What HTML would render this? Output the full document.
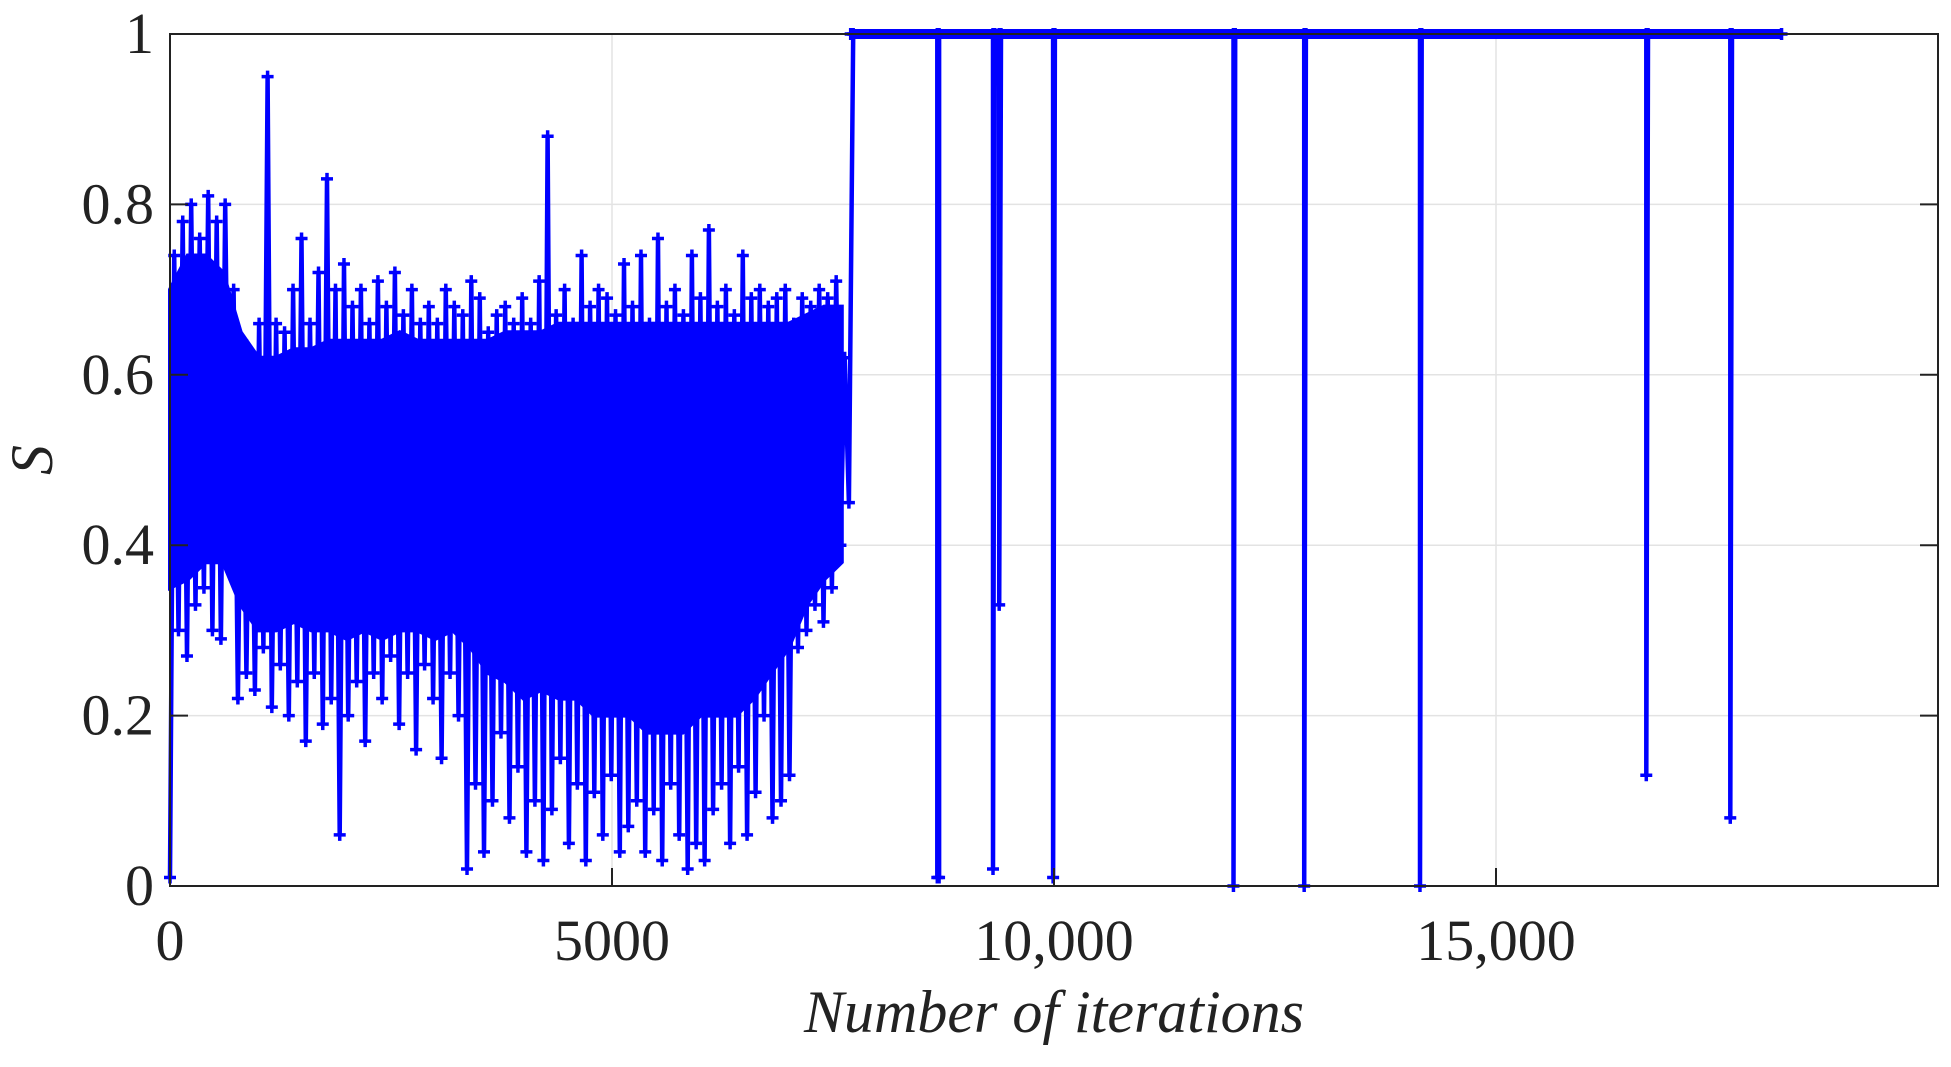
<!DOCTYPE html>
<html><head><meta charset="utf-8"><style>
body{margin:0;background:#fff;width:1951px;height:1062px;overflow:hidden}
svg text{font-family:"Liberation Serif",serif;fill:#222}
</style></head><body>
<svg id="chart" width="1951" height="1062" xmlns="http://www.w3.org/2000/svg">
<g id="grid"></g>
<g id="series"></g>
<rect x="170" y="34" width="1768" height="852" fill="none" stroke="#222" stroke-width="2"/>
<g id="ticks"></g>
<text x="1054" y="1032" font-size="60" font-style="italic" text-anchor="middle">Number of iterations</text>
<text x="52" y="460" font-size="60" font-style="italic" text-anchor="middle" transform="rotate(-90 52 460)">S</text>
</svg>
<script>
const xTicks=[0,5000,10000,15000];
const xTickLabels=["0","5000","10,000","15,000"];
const yTicks=[0,0.2,0.4,0.6,0.8,1];
const yTickLabels=["0","0.2","0.4","0.6","0.8","1"];
const noisyStep=48;
const noisyValues=[0.01,0.74,0.3,0.78,0.27,0.8,0.33,0.76,0.35,0.81,0.3,0.78,0.29,0.8,0.4,0.7,0.22,0.64,0.25,0.62,0.23,0.66,0.28,0.95,0.21,0.66,0.26,0.65,0.2,0.7,0.24,0.76,0.17,0.66,0.25,0.72,0.19,0.83,0.22,0.7,0.06,0.73,0.2,0.68,0.24,0.7,0.17,0.66,0.25,0.71,0.22,0.68,0.27,0.72,0.19,0.67,0.25,0.7,0.16,0.66,0.26,0.68,0.22,0.66,0.15,0.7,0.25,0.68,0.2,0.67,0.02,0.71,0.12,0.69,0.04,0.65,0.1,0.67,0.18,0.68,0.08,0.66,0.14,0.69,0.04,0.66,0.1,0.71,0.03,0.88,0.09,0.67,0.15,0.7,0.05,0.66,0.12,0.74,0.03,0.68,0.11,0.7,0.06,0.69,0.13,0.67,0.04,0.73,0.07,0.68,0.1,0.74,0.04,0.66,0.09,0.76,0.03,0.68,0.12,0.7,0.06,0.67,0.02,0.74,0.05,0.69,0.03,0.77,0.09,0.68,0.12,0.7,0.05,0.67,0.14,0.74,0.06,0.69,0.11,0.7,0.2,0.68,0.08,0.69,0.1,0.7,0.13,0.66,0.28,0.69,0.3,0.68,0.33,0.7,0.31,0.69,0.35,0.71,0.4,0.62,0.45,1];
const binStep=200;
const binLow=[0.35,0.36,0.38,0.38,0.33,0.3,0.3,0.31,0.3,0.3,0.29,0.3,0.29,0.3,0.3,0.29,0.3,0.28,0.25,0.24,0.22,0.23,0.22,0.22,0.2,0.2,0.2,0.18,0.18,0.18,0.2,0.2,0.2,0.22,0.25,0.28,0.33,0.36,0.38];
const binHigh=[0.7,0.74,0.74,0.72,0.65,0.62,0.62,0.63,0.63,0.64,0.64,0.64,0.64,0.65,0.64,0.64,0.64,0.64,0.64,0.65,0.65,0.65,0.66,0.66,0.66,0.66,0.66,0.66,0.66,0.66,0.66,0.66,0.66,0.66,0.66,0.66,0.67,0.68,0.68];
const convX=[7700,8680,8680,8700,8700,9310,9310,9330,9380,9380,9400,9990,9990,10010,12030,12030,12050,12830,12830,12850,14140,14140,14160,16700,16700,16720,17650,17650,17670,18230];
const convY=[1,1,0.01,0.01,1,1,0.02,1,1,0.33,1,1,0.01,1,1,0.0,1,1,0.0,1,1,0.0,1,1,0.13,1,1,0.08,1,1];
const X=v=>170+v/20000*1768;
const Y=v=>886-v*852;
const NS="http://www.w3.org/2000/svg";
function mk(tag,attrs,parent){const e=document.createElementNS(NS,tag);for(const k in attrs)e.setAttribute(k,attrs[k]);parent.appendChild(e);return e;}
const gridG=document.getElementById('grid'),ticksG=document.getElementById('ticks'),seriesG=document.getElementById('series');
xTicks.forEach((t,i)=>{
 const g=mk('line',{x1:X(t),x2:X(t),y1:34,y2:886,stroke:'#e3e3e3','stroke-width':1.5},gridG);
 
 
 const tk=mk('line',{x1:X(t),x2:X(t),y1:886,y2:868,stroke:'#222','stroke-width':2},ticksG);
 
 
 const tx=mk('text',{x:X(t),y:960,'font-size':58,'text-anchor':'middle'},ticksG);
 tx.textContent=xTickLabels[i];
 
 
});
yTicks.forEach((t,i)=>{
 const g=mk('line',{x1:170,x2:1938,y1:Y(t),y2:Y(t),stroke:'#e3e3e3','stroke-width':1.5},gridG);
 
 
 const tk=mk('line',{x1:170,x2:188,y1:Y(t),y2:Y(t),stroke:'#222','stroke-width':2},ticksG);
 
 
 const tk2=mk('line',{x1:1920,x2:1938,y1:Y(t),y2:Y(t),stroke:'#222','stroke-width':2},ticksG);
 
 
 const tx=mk('text',{x:154,y:Y(t)+19,'font-size':58,'text-anchor':'end'},ticksG);
 tx.textContent=yTickLabels[i];
 
 
});
// dense core envelope
let env='';
binHigh.forEach((v,i)=>{env+=(i?'L':'M')+X(i*binStep).toFixed(1)+' '+Y(v).toFixed(1)+' ';});
for(let i=binLow.length-1;i>=0;i--){env+='L'+X(i*binStep).toFixed(1)+' '+Y(binLow[i]).toFixed(1)+' ';}
const envEl=mk('path',{d:env+'Z',fill:'#0000ff',stroke:'#0000ff','stroke-width':4},seriesG);


const pts=noisyValues.map((v,i)=>[i*noisyStep,v]);
const nearEnd=(noisyValues.length-1)*noisyStep;
pts[pts.length-1][0]=Math.max(nearEnd,convX[0]);
convX.forEach((x,i)=>pts.push([x,convY[i]]));
const d=pts.map((p,i)=>(i?'L':'M')+X(p[0]).toFixed(1)+' '+Y(p[1]).toFixed(1)).join(' ');
const lineEl=mk('path',{d:d,fill:'none',stroke:'#0000ff','stroke-width':4.5,'stroke-linejoin':'round'},seriesG);


const topBand=mk('path',{d:'M'+X(convX[0])+' '+Y(1)+' H'+X(convX[convX.length-1]),stroke:'#0000ff','stroke-width':10},seriesG);


pts.forEach(p=>{
 const m=mk('path',{d:`M${X(p[0])-6} ${Y(p[1])} h12 M${X(p[0])} ${Y(p[1])-6} v12`,stroke:'#0000ff','stroke-width':3.5},seriesG);
 
 
});
</script>
</body></html>
